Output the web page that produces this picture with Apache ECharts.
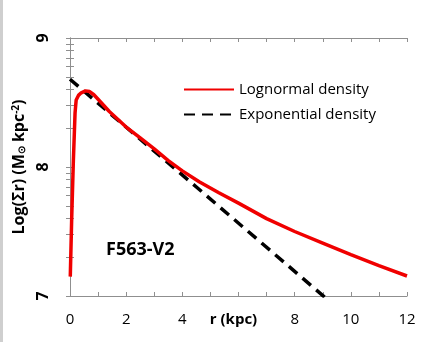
<!DOCTYPE html>
<html>
<head>
    <meta charset="UTF-8">
    <title>F563-V2</title>
    <script type="text/javascript" src="https://cdn.jsdelivr.net/npm/echarts@6/dist/echarts.min.js"></script>
    <style type="text/css">
        html, body { margin: 0; padding: 0; background: #fff; }
        #main { width: 426px; height: 348px; }
    </style>
</head>
<body>
<div id="main"></div>
<script>
// r (kpc) and log surface density
var lognR   = [0.01, 0.06, 0.12, 0.18, 0.22, 0.3, 0.4, 0.55, 0.7, 0.85, 1.0, 1.4, 2.0, 2.5, 3.0, 3.5, 4.0, 4.6, 5.3, 6.0, 7.0, 8.0, 9.0, 10.0, 11.0, 12.0];
var lognVal = [7.15, 7.6, 8.05, 8.42, 8.52, 8.555, 8.575, 8.59, 8.585, 8.56, 8.525, 8.43, 8.31, 8.225, 8.14, 8.05, 7.97, 7.885, 7.80, 7.72, 7.60, 7.50, 7.41, 7.32, 7.235, 7.155];
var expR    = [0, 4.5, 9.1];
var expVal  = [8.68, 7.845, 6.985];

var xLabelValues = [0, 2, 4, 6, 8, 10, 12];
var xTickValues = [0, 1, 2, 3, 4, 5, 6, 7, 8, 9, 10, 11, 12];
var yLabelValues = [7, 8, 9];
// log-style minor ticks between decades
var yTickValues = [];
[7, 8].forEach(function (d) {
    for (var k = 1; k <= 9; k++) yTickValues.push(d + Math.log10(k));
});
yTickValues.push(9);

function pairs(xs, ys) {
    return xs.map(function (x, i) { return [x, ys[i]]; });
}

var axisGray = '#8f8f8f';
var font = '"Open Sans", "Liberation Sans", sans-serif';

var myChart = echarts.init(document.getElementById('main'));
myChart.setOption({
    animation: false,
    grid: { left: 70, right: 19, top: 38, bottom: 52 },
    legend: {
        left: 178, top: 77,
        orient: 'vertical',
        itemWidth: 50, itemHeight: 14, itemGap: 10,
        itemStyle: { opacity: 0, borderWidth: 0 },
        data: ['Lognormal density', 'Exponential density'],
        textStyle: { fontFamily: font, fontSize: 15, color: '#000' }
    },
    xAxis: [{
        type: 'value', min: 0, max: 12, interval: 1,
        axisLine: { lineStyle: { color: axisGray } },
        splitLine: { show: false },
        axisTick: { inside: true, length: 4, customValues: xTickValues, lineStyle: { color: axisGray } },
        axisLabel: {
            customValues: xLabelValues, margin: 16,
            fontFamily: font, fontSize: 15, color: '#000',
            formatter: function (v) { return v === 6 ? '{b|r (kpc)}' : String(v); },
            rich: { b: { fontFamily: font, fontSize: 15, fontWeight: 'bold', color: '#000', padding: [0, 10, 0, 0] } }
        }
    }, {
        type: 'value', min: 0, max: 12, interval: 1, position: 'top',
        axisLine: { show: true, lineStyle: { color: axisGray } },
        splitLine: { show: false },
        axisTick: { show: true, inside: true, length: 4, customValues: xTickValues, lineStyle: { color: axisGray } },
        axisLabel: { show: false }
    }],
    yAxis: [{
        type: 'value', min: 7, max: 9, interval: 1,
        name: 'Log(Σr) (M{sub|⊙} kpc{sup|-2})',
        nameLocation: 'middle', nameGap: 39, nameRotate: 90,
        nameTextStyle: {
            fontFamily: font, fontSize: 16, fontWeight: 'bold', color: '#000',
            rich: {
                sub: { fontFamily: font, fontSize: 10, fontWeight: 'bold', color: '#000', verticalAlign: 'bottom', padding: [6, 0, 0, 0] },
                sup: { fontFamily: font, fontSize: 10, fontWeight: 'bold', color: '#000', verticalAlign: 'top', padding: [0, 0, 6, 0] }
            }
        },
        axisLine: { show: true, lineStyle: { color: axisGray } },
        splitLine: { show: false },
        axisTick: { show: true, inside: true, length: 4, customValues: yTickValues, lineStyle: { color: axisGray } },
        axisLabel: {
            customValues: yLabelValues, rotate: 90, margin: 19,
            fontFamily: font, fontSize: 16, fontWeight: 'bold', color: '#000'
        }
    }, {
        type: 'value', min: 7, max: 9, interval: 1, position: 'right',
        axisLine: { show: true, lineStyle: { color: axisGray } },
        splitLine: { show: false },
        axisTick: { show: true, inside: true, length: 4, customValues: yTickValues, lineStyle: { color: axisGray } },
        axisLabel: { show: false }
    }],
    graphic: [{
        type: 'rect', left: 0, top: 0,
        shape: { width: 3, height: 342 },
        style: { fill: '#cfcfcf' }
    }, {
        type: 'text', left: 106, top: 241,
        style: { text: 'F563-V2', font: 'bold 18px ' + font, fill: '#000' }
    }],
    series: [{
        name: 'Exponential density',
        type: 'line',
        showSymbol: false, symbol: 'none',
        data: pairs(expR, expVal),
        lineStyle: { color: '#000', width: 3.5, type: [11, 7] },
        itemStyle: { color: '#000' }
    }, {
        name: 'Lognormal density',
        type: 'line',
        showSymbol: false, symbol: 'none',
        data: pairs(lognR, lognVal),
        lineStyle: { color: '#f00000', width: 3.5 },
        itemStyle: { color: '#f00000' }
    }]
});
</script>
</body>
</html>
